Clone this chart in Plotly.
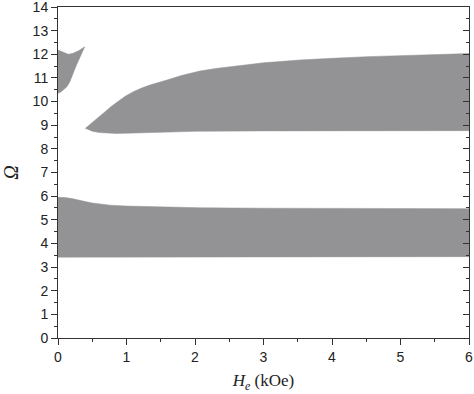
import plotly.graph_objects as go

# Lower band
band1_x = [0, 0.1, 0.2, 0.3, 0.4, 0.5, 0.6, 0.76, 1.0, 1.34, 2.07, 3.0, 4.0, 5.0, 6.0]
band1_top = [5.95, 5.94, 5.90, 5.84, 5.77, 5.71, 5.66, 5.62, 5.58, 5.55, 5.51, 5.49, 5.48, 5.47, 5.47]
band1_bottom = [3.42, 3.42, 3.42, 3.42, 3.42, 3.42, 3.42, 3.42, 3.42, 3.42, 3.43, 3.43, 3.44, 3.44, 3.44]

# Upper band
band2_top_x = [0.40, 0.45, 0.5, 0.55, 0.61, 0.7, 0.78, 0.86, 0.98, 1.1, 1.22, 1.34, 1.46, 1.59, 1.8, 2.07, 2.3, 2.56, 3.0, 3.53, 4.0, 4.51, 5.0, 5.5, 6.0]
band2_top = [8.87, 8.99, 9.11, 9.23, 9.37, 9.60, 9.80, 9.98, 10.22, 10.42, 10.57, 10.70, 10.81, 10.91, 11.10, 11.29, 11.40, 11.50, 11.64, 11.76, 11.83, 11.90, 11.95, 11.99, 12.03]
band2_bot_x = [0.40, 0.45, 0.5, 0.6, 0.71, 0.85, 1.0, 1.5, 2.0, 3.0, 4.0, 5.0, 6.0]
band2_bot = [8.87, 8.80, 8.75, 8.69, 8.66, 8.65, 8.66, 8.70, 8.74, 8.76, 8.77, 8.77, 8.77]

# Small region near the top-left
band3_top_x = [0, 0.03, 0.08, 0.15, 0.22, 0.3, 0.39]
band3_top = [12.18, 12.15, 12.07, 12.0, 12.04, 12.15, 12.32]
band3_bot_x = [0, 0.04, 0.08, 0.13, 0.17, 0.2, 0.24, 0.27, 0.31, 0.35, 0.39]
band3_bot = [10.35, 10.40, 10.50, 10.63, 10.82, 11.05, 11.30, 11.55, 11.80, 12.04, 12.32]

FILL = "#939396"

fig = go.Figure()

def add_region(xl, yl, xu, yu):
    xs = list(xl) + list(reversed(xu))
    ys = list(yl) + list(reversed(yu))
    fig.add_trace(go.Scatter(x=xs, y=ys, mode="lines", fill="toself",
                             fillcolor=FILL, line=dict(color=FILL, width=0.5),
                             hoverinfo="skip", showlegend=False))

add_region(band1_x, band1_bottom, band1_x, band1_top)
add_region(band2_bot_x, band2_bot, band2_top_x, band2_top)
add_region(band3_bot_x, band3_bot, band3_top_x, band3_top)

# invisible trace for the right (mirror) axis
fig.add_trace(go.Scatter(x=[0], y=[0], yaxis="y2", mode="markers",
                         marker=dict(opacity=0), hoverinfo="skip", showlegend=False))

axis_font = dict(family="Liberation Sans, Arial, sans-serif", size=14, color="#222")

fig.update_layout(
    width=474, height=394,
    margin=dict(l=58, r=5, t=7, b=56),
    paper_bgcolor="white", plot_bgcolor="white",
    xaxis=dict(range=[0, 6], dtick=1, tick0=0, ticks="outside", ticklen=6, tickwidth=1,
               tickcolor="#333", showline=True, linecolor="#333", linewidth=1, mirror=True,
               showgrid=False, zeroline=False, tickfont=axis_font, automargin=False,
               ticklabeloverflow="allow",
               minor=dict(dtick=0.5, ticks="outside", ticklen=3, tickcolor="#333"),
               title=dict(text="<i>H</i><sub><i>e</i></sub> (kOe)",
                          font=dict(family="Liberation Serif, Times New Roman, serif", size=17, color="#222"),
                          standoff=10)),
    yaxis=dict(range=[0, 14], dtick=1, tick0=0, ticks="outside", ticklen=6, tickwidth=1,
               tickcolor="#333", showline=True, linecolor="#333", linewidth=1,
               showgrid=False, zeroline=False, tickfont=axis_font, automargin=False,
               ticklabeloverflow="allow",
               minor=dict(dtick=0.5, ticks="outside", ticklen=3, tickcolor="#333"),
               title=dict(text="<i>Ω</i>",
                          font=dict(family="Liberation Serif, Times New Roman, serif", size=20, color="#222"),
                          standoff=10)),
    yaxis2=dict(range=[0, 14], dtick=1, tick0=0, overlaying="y", side="right", ticks="inside",
                ticklen=6, tickcolor="#333", showline=True, linecolor="#333", linewidth=1,
                showgrid=False, zeroline=False, showticklabels=False, automargin=False,
                minor=dict(dtick=0.5, ticks="inside", ticklen=3, tickcolor="#333")),
)

fig.write_html("out.html", config={"displayModeBar": False},
               post_script="document.body.style.margin='0';document.body.style.overflow='hidden';")
